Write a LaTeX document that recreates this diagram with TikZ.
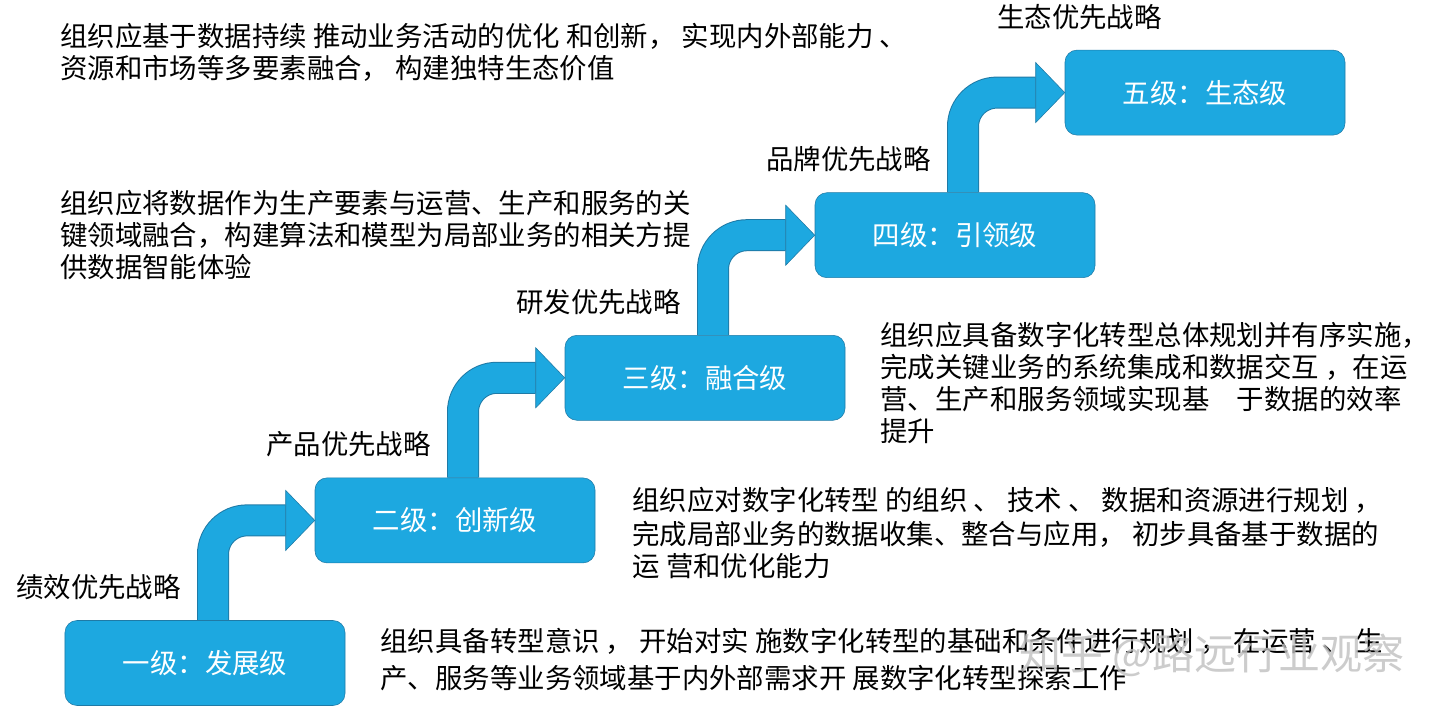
\documentclass[tikz,border=0pt]{standalone}
\usepackage{fontspec}
\setmainfont{Noto Sans CJK SC}
\usepackage{tikz}
\usetikzlibrary{arrows.meta, positioning, calc, backgrounds}
\definecolor{stageblue}{RGB}{29,168,224}
\definecolor{stageedge}{RGB}{31,122,166}

\begin{document}
\begin{tikzpicture}[x=0.25mm, y=0.25mm,
      stagebox/.style={draw=stageedge, fill=stageblue, rounded corners=3mm,
                  minimum width=70mm, minimum height=21.25mm, inner sep=0pt,
                  text=white, font=\fontsize{19.5}{23}\selectfont},
      strategy/.style={anchor=base east, inner sep=0pt,
                  font=\fontsize{19.5}{23}\selectfont},
      desc/.style={anchor=base west, align=left, inner sep=0pt,
                  font=\fontsize{19.5}{22.8}\selectfont},
      shaftedge/.style={draw=stageedge, line width=8mm, rounded corners=8.5mm},
      shaftfill/.style={draw=stageblue, line width=7.5mm, rounded corners=8.5mm},
      tipshape/.style={fill=stageblue, draw=stageedge, line width=0.4pt},
      watermark/.style={text=black!25, text opacity=0.8,
                  font=\fontsize{29.9}{32}\selectfont},
      >=Stealth]
    \useasboundingbox (0,0) rectangle (1440,-714);
    \foreach \t [count=\i] in {一级：发展级, 二级：创新级, 三级：融合级,
                               四级：引领级, 五级：生态级} {
      \node[stagebox] (b\i) at ({205+250*(\i-1)}, {-663+142.6*(\i-1)}) {\t};
    }
    \begin{scope}[on background layer]
      \foreach \i [evaluate=\i as \j using int(\i+1)] in {1,...,4} {
        \draw[shaftedge] ($(b\i.north)+(8,0)$) |- ($(b\j.west)+(-29,0)$);
        \draw[shaftfill] ($(b\i.north)+(8,0)$) |- ($(b\j.west)+(-29,0)$);
        \filldraw[tipshape] ($(b\j.west)+(-29,30)$) -- (b\j.west)
          -- ($(b\j.west)+(-29,-30)$) -- cycle;
      }
    \end{scope}
    \foreach \t [count=\i] in {绩效优先战略, 产品优先战略, 研发优先战略, 品牌优先战略} {
      \node[strategy] (s\i) at ($(b\i.north)+(-24,23)$) {\t};
    }
    \node[strategy] (s5) at ($(b5.north)+(-43,22)$) {生态优先战略};
    \node[desc] (d1) at ($(b1.east)+(35,-25)$)
      {组织具备转型意识 ， 开始对实 施数字化转型的基础和条件进行规划 ， 在运营 、 生\\[3.5pt]
       产、服务等业务领域基于内外部需求开 展数字化转型探索工作};
    \node[desc] (d2) at ($(b2.east)+(37,-56)$)
      {组织应对数字化转型 的组织 、 技术 、 数据和资源进行规划 ，\\[1pt]
       完成局部业务的数据收集、整合与应用， 初步具备基于数据的\\
       运 营和优化能力};
    \node[desc] (d3) at ($(b3.east)+(35,-64)$)
      {组织应具备数字化转型总体规划并有序实施，\\
       完成关键业务的系统集成和数据交互 ，在运\\
       营、生产和服务领域实现基　于数据的效率\\
       提升};
    \node[desc] (d4) at (60,-278)
      {组织应将数据作为生产要素与运营、生产和服务的关\\
       键领域融合，构建算法和模型为局部业务的相关方提\\
       供数据智能体验};
    \node[desc] (d5) at (60,-79)
      {组织应基于数据持续 推动业务活动的优化 和创新， 实现内外部能力 、\\
       资源和市场等多要素融合， 构建独特生态价值};
    \node[watermark] (wm) at (1212,-655) {知乎 @路远行业观察};
  \end{tikzpicture}
\end{document}
